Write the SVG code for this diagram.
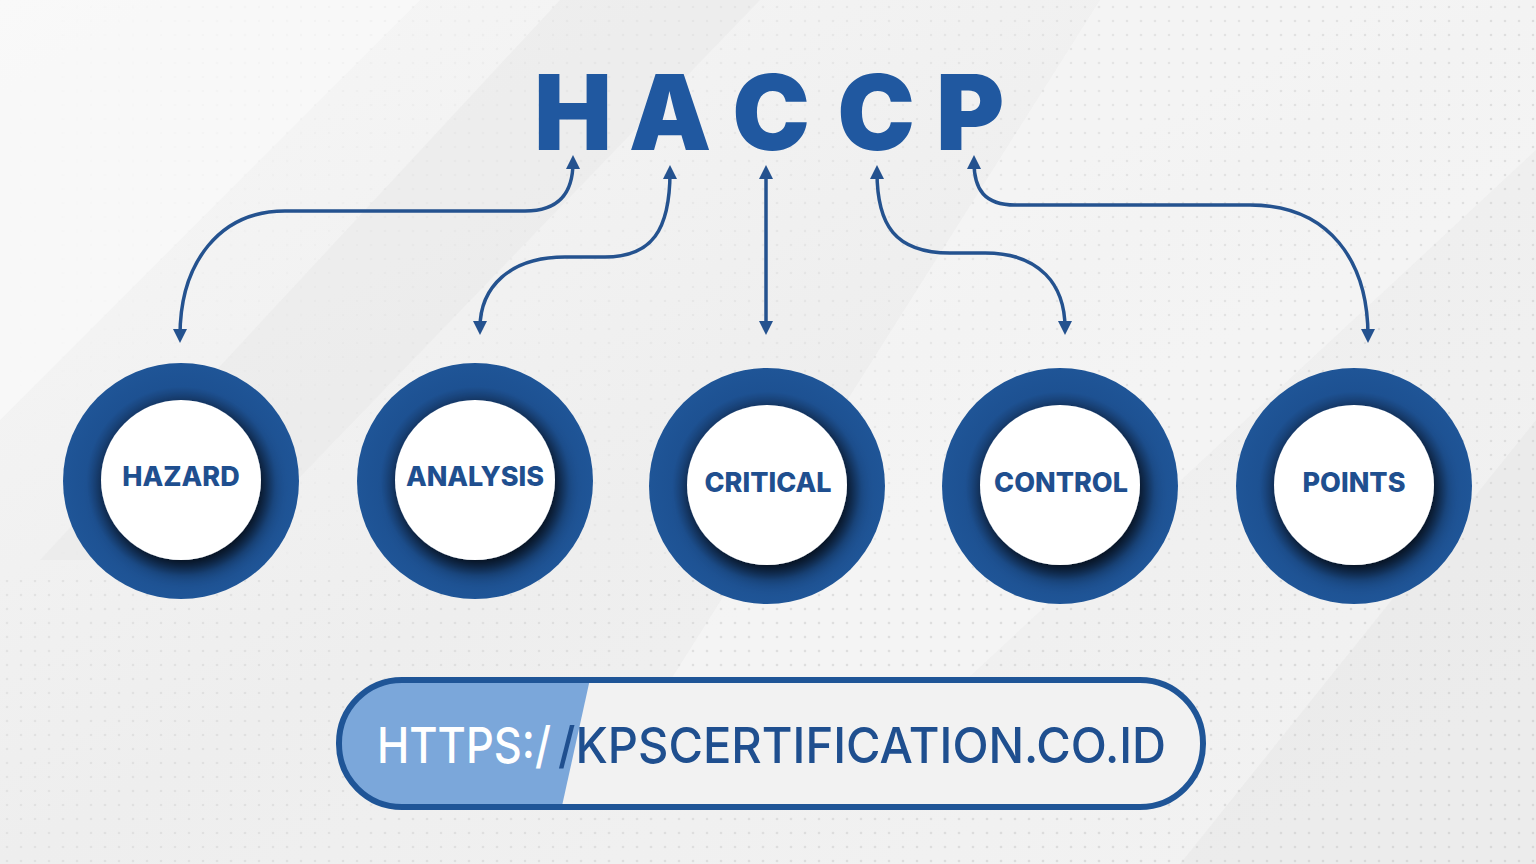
<svg xmlns="http://www.w3.org/2000/svg" width="1536" height="864" viewBox="0 0 1536 864">
<defs>
<linearGradient id="bg" x1="0" y1="0" x2="1" y2="1">
<stop offset="0" stop-color="#f7f7f7"/>
<stop offset="0.5" stop-color="#eeeeee"/>
<stop offset="1" stop-color="#f3f3f3"/>
</linearGradient>
<pattern id="dots" width="14" height="14" patternUnits="userSpaceOnUse">
<circle cx="7" cy="7" r="1.3" fill="#d4d4d4"/>
</pattern>
<linearGradient id="dotfade" x1="0" y1="0" x2="1" y2="0">
<stop offset="0" stop-color="#fff" stop-opacity="0"/>
<stop offset="1" stop-color="#fff" stop-opacity="1"/>
</linearGradient>
<mask id="dm">
<rect width="1536" height="864" fill="url(#dotfade)"/>
</mask>
<radialGradient id="ring" cx="0.5" cy="0.5" r="0.5">
<stop offset="0.66" stop-color="#163a6b"/>
<stop offset="0.8" stop-color="#1d5192"/>
<stop offset="1" stop-color="#1f5597"/>
</radialGradient>
<filter id="sh" x="-40%" y="-40%" width="180%" height="180%">
<feGaussianBlur in="SourceAlpha" stdDeviation="10"/>
<feOffset dx="5" dy="9"/>
<feComponentTransfer><feFuncA type="linear" slope="0.8"/></feComponentTransfer>
<feMerge><feMergeNode/><feMergeNode in="SourceGraphic"/></feMerge>
</filter>
<marker id="ah" viewBox="0 0 10 10" refX="5" refY="5" markerWidth="4" markerHeight="4" orient="auto-start-reverse">
<path d="M0,0 L10,5 L0,10 z" fill="#24528f"/>
</marker>
<style>
.con{fill:none;stroke:#24528f;stroke-width:3.5;marker-start:url(#ah);marker-end:url(#ah)}
.outer{fill:url(#ring)}
.inner{fill:#ffffff;filter:url(#sh)}
.lbl{font-family:Inter,"Open Sans","Liberation Sans",sans-serif;font-weight:800;font-size:27px;fill:#1f4f8f;text-anchor:middle}
.big{font-family:Inter,"Liberation Sans",sans-serif;font-weight:900;font-size:104px;fill:#2058a0;text-anchor:middle}
.url{font-family:Inter,"Liberation Sans",sans-serif;font-weight:500;font-size:50px}
</style>
</defs>
<g id="background">
<rect width="1536" height="864" fill="url(#bg)"/>
<polygon points="0,0 420,0 0,420" fill="#f9f9f9" opacity="0.8"/>
<polygon points="560,0 760,0 220,560 40,560" fill="#e9e9e9" opacity="0.6"/>
<polygon points="1100,0 1536,0 1536,150 880,760 620,760" fill="#f6f6f6" opacity="0.6"/>
<polygon points="1536,420 1536,864 1180,864" fill="#e8e8e8" opacity="0.6"/>
<rect x="0" y="0" width="1536" height="864" fill="url(#dots)" mask="url(#dm)" opacity="0.7"/>
<rect x="0" y="580" width="1536" height="284" fill="url(#dots)" opacity="0.5"/>
</g>
<g id="title">
<text class="big" x="573" y="150">H</text>
<text class="big" x="670" y="150">A</text>
<text class="big" x="771" y="150">C</text>
<text class="big" x="876" y="150">C</text>
<text class="big" x="970" y="150">P</text>
</g>
<g id="connectors">
<path class="con" d="M573,162 C573,192 560,211 525,211 L285,211 C220,211 180,262 180,336"/>
<path class="con" d="M670,172 C670,230 652,257 605,257 L565,257 C510,257 480,287 480,328"/>
<path class="con" d="M766,172 L766,328"/>
<path class="con" d="M877,172 C877,225 895,253 950,253 L985,253 C1040,253 1065,285 1065,328"/>
<path class="con" d="M974,162 C974,190 985,205 1015,205 L1250,205 C1330,205 1368,262 1368,336"/>
</g>
<g id="node-hazard">
<circle class="outer" cx="181" cy="481" r="118"/>
<circle class="inner" cx="181" cy="480" r="80"/>
<text class="lbl" x="181" y="486">HAZARD</text>
</g>
<g id="node-analysis">
<circle class="outer" cx="475" cy="481" r="118"/>
<circle class="inner" cx="475" cy="480" r="80"/>
<text class="lbl" x="475" y="486">ANALYSIS</text>
</g>
<g id="node-critical">
<circle class="outer" cx="767" cy="486" r="118"/>
<circle class="inner" cx="767" cy="485" r="80"/>
<text class="lbl" x="768" y="492">CRITICAL</text>
</g>
<g id="node-control">
<circle class="outer" cx="1060" cy="486" r="118"/>
<circle class="inner" cx="1060" cy="485" r="80"/>
<text class="lbl" x="1061" y="492">CONTROL</text>
</g>
<g id="node-points">
<circle class="outer" cx="1354" cy="486" r="118"/>
<circle class="inner" cx="1354" cy="485" r="80"/>
<text class="lbl" x="1354" y="492">POINTS</text>
</g>
<g id="url">
<clipPath id="pill"><rect x="339" y="680" width="864" height="127" rx="63"/></clipPath>
<rect x="339" y="680" width="864" height="127" rx="63" fill="#f2f2f2"/>
<polygon points="330,670 592,670 560,815 330,815" fill="#7ba7da" clip-path="url(#pill)"/>
<rect x="339" y="680" width="864" height="127" rx="63" fill="none" stroke="#1f5597" stroke-width="6"/>
<text class="url" x="377" y="763" fill="#ffffff" textLength="174" lengthAdjust="spacingAndGlyphs">HTTPS:/</text>
<text class="url" x="558" y="763" fill="#1f4f8f" textLength="608" lengthAdjust="spacingAndGlyphs">/KPSCERTIFICATION.CO.ID</text>
</g>
</svg>
